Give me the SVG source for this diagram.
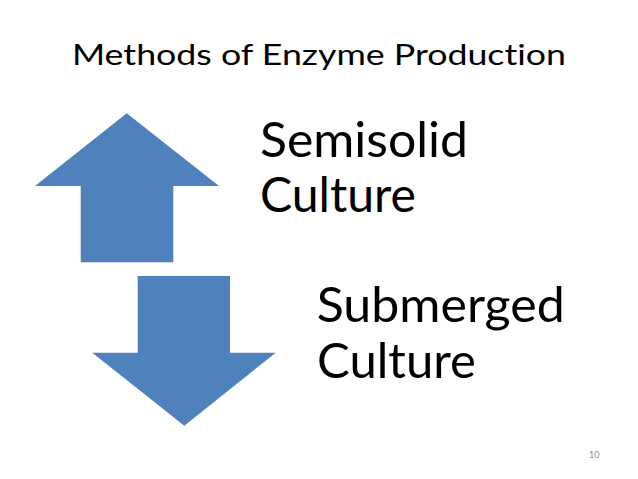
<svg xmlns="http://www.w3.org/2000/svg" width="638" height="479" viewBox="0 0 638 479">
<style>
.arrow{fill:#4F81BD;stroke:none}
.t{font-family:Lato,"Liberation Sans",sans-serif;fill:#000;font-variant-ligatures:none}
.big{font-size:47.6px}
.title{font-size:28.2px}
.num{font-family:Lato,"Liberation Sans",sans-serif;font-size:9px;fill:#8C8C8C}
</style>
<rect width="638" height="479" fill="#fff"/>
<text class="t title" x="72" y="64.5" textLength="494" lengthAdjust="spacingAndGlyphs">Methods of Enzyme Production</text>
<g id="up-arrow">
<polygon class="arrow" points="126.7,113.3 219,186 173.3,186 173.3,262.3 80.7,262.3 80.7,186 35,186"/>
</g>
<g id="down-arrow">
<polygon class="arrow" points="137.7,276 230,276 230,352.7 275.7,352.7 184.3,425.7 92.3,352.7 137.7,352.7"/>
</g>
<g id="semisolid">
<text class="t big" x="260" y="156.7" textLength="208" lengthAdjust="spacingAndGlyphs">Semisolid</text>
<text class="t big" x="260" y="211.7" textLength="156" lengthAdjust="spacingAndGlyphs">Culture</text>
</g>
<g id="submerged">
<text class="t big" x="316.7" y="321.7" textLength="248" lengthAdjust="spacingAndGlyphs">Submerged</text>
<text class="t big" x="317" y="377.7" textLength="159" lengthAdjust="spacingAndGlyphs">Culture</text>
</g>
<text class="num" x="589" y="458">10</text>
</svg>
